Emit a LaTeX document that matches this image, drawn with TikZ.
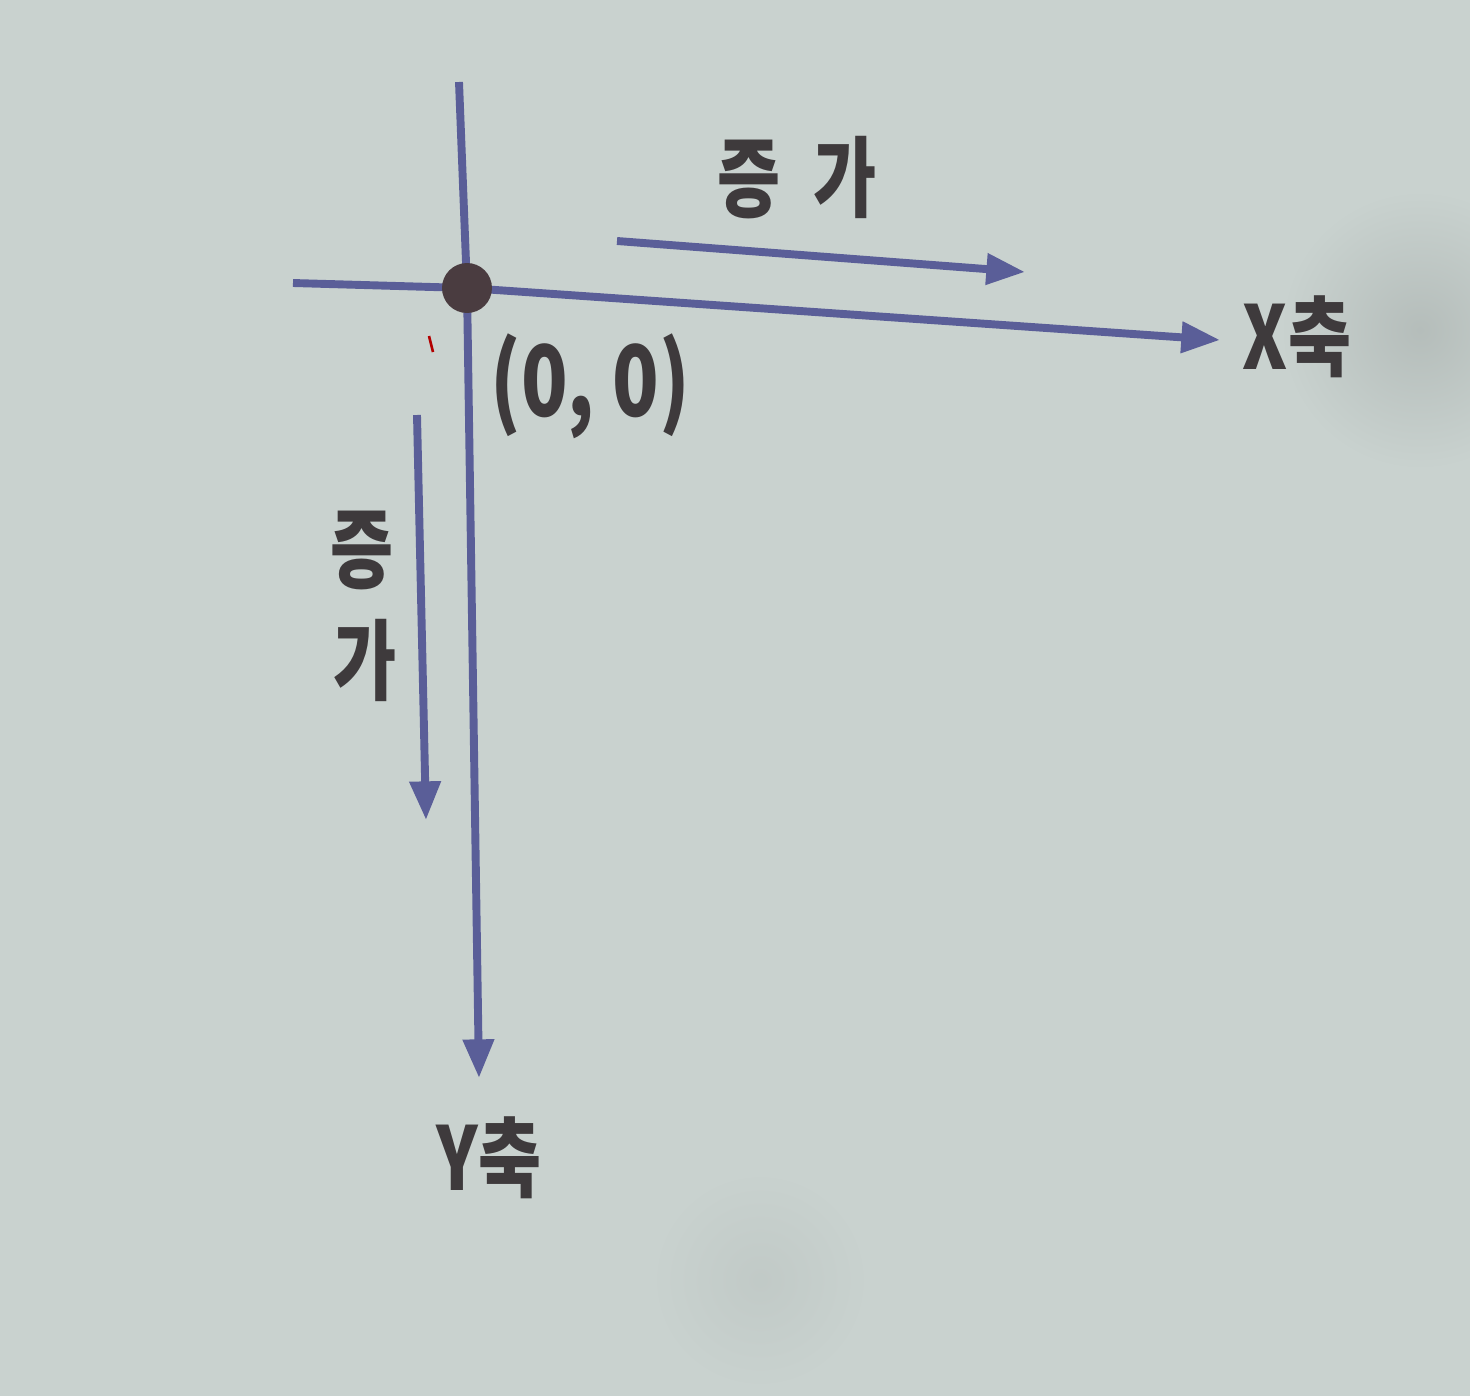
\documentclass[tikz,border=0pt]{standalone}
\usepackage{fontspec}
\newfontfamily\kr[FakeStretch=0.78]{Noto Sans CJK KR}
\usetikzlibrary{arrows.meta}
\definecolor{bg}{HTML}{C9D2CF}
\definecolor{ax}{HTML}{5A5E98}
\definecolor{txt}{HTML}{3E3A3C}
\definecolor{dotc}{HTML}{4A3C40}
\tikzset{
  axisline/.style={draw=ax, line width=4.5pt, -{Triangle[length=22pt,width=17pt]}},
  plainline/.style={draw=ax, line width=4.5pt},
  lbl/.style={text=txt, font=\kr\bfseries\fontsize{50}{56}\selectfont, inner sep=0pt},
  lblbig/.style={text=txt, font=\kr\bfseries\fontsize{56}{62}\selectfont, inner sep=0pt},
}
\begin{document}
\begin{tikzpicture}[x=0.02cm,y=-0.02cm]
\fill[bg] (0,0) rectangle (1470,1396);
\useasboundingbox (0,0) rectangle (1470,1396);
\shade[inner color=bg!90!black, outer color=bg] (1420,330) circle (140);
\shade[inner color=bg!96!black, outer color=bg] (760,1280) circle (110);
% coordinates
\coordinate (xs) at (293,283);
\coordinate (xe) at (1220,340);
\coordinate (ys) at (459,82);
\coordinate (ye) at (479,1078);
\coordinate (hs) at (617,241);
\coordinate (he) at (1025,272);
\coordinate (vs) at (417,415);
\coordinate (ve) at (426,820);
% axes
\draw[plainline] (ys) -- (467,288);
\draw[axisline] (467,288) -- (ye);
\draw[plainline] (xs) -- (467,288);
\draw[axisline] (467,288) -- (xe);
\node[circle, fill=dotc, minimum size=50*0.569pt, inner sep=0pt] (o) at (467,288) {};
% direction arrows
\draw[axisline] (hs) -- (he);
\draw[axisline] (vs) -- (ve);
% red tick
\draw[red!70!black, line width=1.5pt] (429,336) -- (433,352);
% labels
\node[lblbig] (orig) at (590,386) {(0, 0)};
\node[lbl] (inch) at (797,178) {증\hspace{19pt}가};
\node[lbl] (v1) at (362,550) {증};
\node[lbl] (v2) at (365,660) {가};
\node[lbl] (xl) at (1297,337) {X축};
\node[lbl] (yl) at (489,1158) {Y축};
\end{tikzpicture}
\end{document}
